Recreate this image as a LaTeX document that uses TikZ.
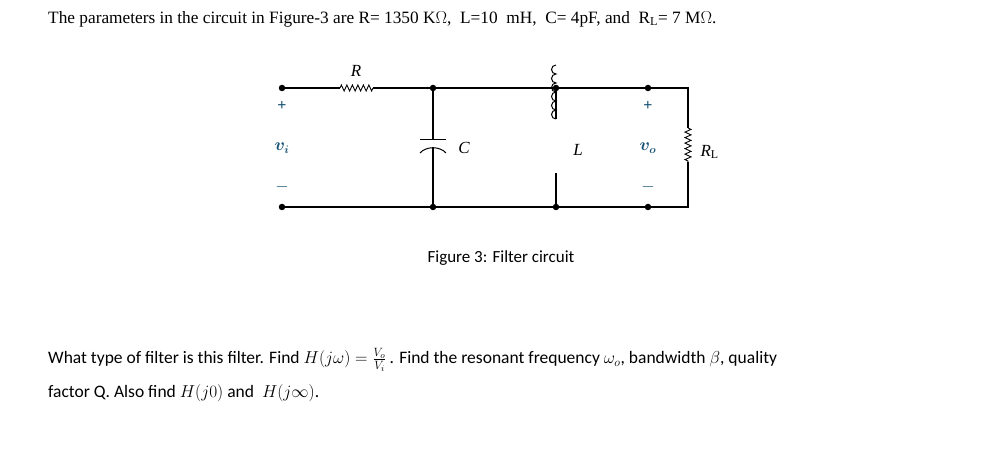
\documentclass[tikz,border=0pt]{standalone}
\usepackage{amsmath}
\usepackage{fontspec}
\setmainfont{Liberation Serif}
\newfontfamily\carlitofam{Carlito}
\usetikzlibrary{decorations.pathmorphing}
\definecolor{pol}{RGB}{20,80,115}
\begin{document}
\begin{tikzpicture}[x=1pt,y=-1pt,
  dot/.style={circle,fill=black,inner sep=0pt,minimum size=6.5pt},
  wire/.style={line width=1.1pt},
  lab/.style={font=\fontsize{17}{20}\selectfont\itshape},
  polt/.style={text=pol,font=\fontsize{16}{18}\selectfont\bfseries},
  txt/.style={anchor=west,inner sep=0pt,font=\carlitofam\fontsize{17.5}{21}\selectfont}]
\useasboundingbox (0,0) rectangle (985,470);
\node[anchor=west,inner sep=0pt,font=\fontsize{17.3}{20}\selectfont] (title) at (48,19)
 {The parameters in the circuit in Figure-3 are R= 1350 K$\Omega$,\ \ L=10\ \ mH,\ \ C= 4pF, and\ \ R\textsubscript{L}= 7 M$\Omega$.};
% nodes
\node[dot] (a1) at (282,88) {};
\node[dot] (a2) at (282,207) {};
\node[dot] (c1) at (433,88) {};
\node[dot] (c2) at (433,207) {};
\node[dot] (l1) at (556,88) {};
\node[dot] (l2) at (556,207) {};
\node[dot] (o1) at (648,88) {};
\node[dot] (o2) at (648,207) {};
\coordinate (r1) at (688,88);
\coordinate (r2) at (688,207);
\coordinate (ra) at (340,88);
\coordinate (rb) at (373,88);
% wires
\draw[wire] (a1) -- (ra);
\draw[line width=0.9pt,decorate,decoration={zigzag,segment length=5.5pt,amplitude=3pt}] (ra) -- (rb);
\draw[wire] (rb) -- (c1) -- (l1) -- (o1) -- (r1) -- (688,128);
\draw[line width=0.9pt,decorate,decoration={zigzag,segment length=5.5pt,amplitude=3pt}] (688,128) -- (688,162);
\draw[wire] (688,162) -- (r2) -- (o2) -- (l2) -- (c2) -- (a2);
% capacitor
\draw[wire] (c1) -- (433,140);
\draw[line width=1pt] (420,140) -- (446,140);
\draw[line width=1pt] (420,153) .. controls (426,146) and (440,146) .. (446,153);
\draw[wire] (433,147.5) -- (c2);
% inductor
\draw[wire] (l1) -- (556,119);
\draw[line width=1pt] (556,119) arc (-90:90:-4.5) arc (-90:90:-4.5) arc (-90:90:-4.5) arc (-90:90:-4.5) arc (-90:90:-4.5) arc (-90:90:-4.5);
\draw[wire] (556,173) -- (l2);
% labels
\node[lab] (lR) at (356,71) {R};
\node[lab] (lC) at (464,148) {C};
\node[lab] (lL) at (578,150) {L};
\node[lab,anchor=west] (lRL) at (697,152) {R\textsubscript{\upshape L}};
\node[polt] (p1) at (282,106) {+};
\node[polt] (vi) at (282,148) {$\boldsymbol{v_i}$};
\node[polt] (m1) at (282,187) {$-$};
\node[polt] (p2) at (648,106) {+};
\node[polt] (vo) at (648,148) {$\boldsymbol{v_o}$};
\node[polt] (m2) at (648,187) {$-$};
\node[font=\carlitofam\fontsize{17}{20}\selectfont] (cap) at (501,258) {Figure 3: Filter circuit};
\node[txt] (q1) at (48,360) {What type of filter is this filter. Find $H(j\omega)=\frac{V_o}{V_i}$\,. Find the resonant frequency $\omega_o$, bandwidth $\beta$, quality};
\node[txt] (q2) at (48,393) {factor Q. Also find $H(j0)$ and\ \ $H(j\infty)$.};
\end{tikzpicture}
\end{document}
